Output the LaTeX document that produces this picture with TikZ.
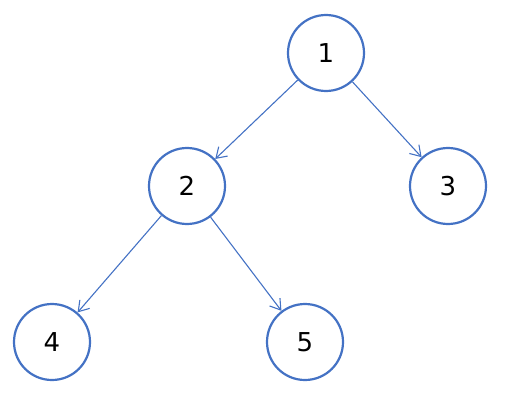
\documentclass[tikz,border=0pt]{standalone}
\usepackage{fontspec}
\setmainfont{DejaVu Sans}
\usetikzlibrary{arrows.meta}

\begin{document}
\begin{tikzpicture}[x=1pt,y=-1pt,
    every node/.style={font=\fontsize{26}{30}\selectfont},
    vertex/.style={draw=treeblue,circle,line width=2.2pt,minimum size=76pt,inner sep=0pt},
    link/.style={-{Straight Barb[length=10pt,width=13pt]},draw=treeblue,line width=1.1pt}]
  \definecolor{treeblue}{HTML}{4472C4}
  \useasboundingbox (0,0) rectangle (508,401);
  \foreach \name/\x/\y in {1/326/53, 2/187/186, 3/448/186, 4/52/342, 5/305/342}{
    \node[vertex] (n\name) at (\x,\y) {\name};
  }
  \draw[link] (n1) -- (n2);
  \draw[link] (n1) -- (n3);
  \draw[link] (n2) -- (n4);
  \draw[link] (n2) -- (n5);
\end{tikzpicture}
\end{document}
